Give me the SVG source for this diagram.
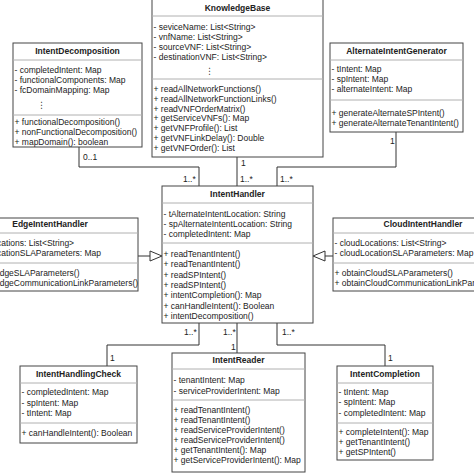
<svg xmlns="http://www.w3.org/2000/svg" width="474" height="474" viewBox="0 0 474 474">
<style>
.box{fill:#fff;stroke:#444;stroke-width:1}
.div{stroke:#b0b0b0;stroke-width:1}
.t{font-family:"Liberation Sans",Arial,sans-serif;font-size:8.5px;fill:#222}
.h{font-family:"Liberation Sans",Arial,sans-serif;font-size:8.5px;font-weight:bold;fill:#222;text-anchor:middle}
.dots{font-family:"DejaVu Sans",sans-serif;font-size:9px;fill:#444}
.c{fill:none;stroke:#333;stroke-width:1}
.tri{fill:#fff;stroke:#333;stroke-width:1}
</style>
<rect width="474" height="474" fill="#fff"/>
<g id="connectors">
<polyline class="c" points="79,147 79,167 199,167 199,186"/>
<line class="c" x1="237" y1="157" x2="237" y2="186"/>
<polyline class="c" points="396,132 396,167 277,167 277,186"/>
<line class="c" x1="138" y1="256" x2="150" y2="256"/>
<polygon class="tri" points="150,251 162,256 150,261"/>
<line class="c" x1="333" y1="256" x2="325" y2="256"/>
<polygon class="tri" points="325,251 313,256 325,261"/>
<polyline class="c" points="199,323 199,345 107,345 107,366"/>
<line class="c" x1="237" y1="323" x2="237" y2="353"/>
<polyline class="c" points="277,323 277,345 385,345 385,366"/>
<text class="t" x="83" y="160">0..1</text>
<text class="t" x="183" y="182">1..*</text>
<text class="t" x="241" y="166">1</text>
<text class="t" x="240" y="182">1..*</text>
<text class="t" x="280" y="182">1..*</text>
<text class="t" x="390" y="144">1</text>
<text class="t" x="184" y="335">1..*</text>
<text class="t" x="223" y="335">1..*</text>
<text class="t" x="282" y="335">1..*</text>
<text class="t" x="110" y="361">1</text>
<text class="t" x="231" y="350">1</text>
<text class="t" x="388" y="361">1</text>
</g>
<g id="KnowledgeBase">
<rect class="box" x="152" y="-1" width="171" height="158"/>
<text class="h" x="237.5" y="11">KnowledgeBase</text>
<line class="div" x1="152" y1="16" x2="323" y2="16"/>
<text class="t" x="153.5" y="30">- seviceName: List&lt;String&gt;</text>
<text class="t" x="153.5" y="40">- vnfName: List&lt;String&gt;</text>
<text class="t" x="153.5" y="50">- sourceVNF: List&lt;String&gt;</text>
<text class="t" x="153.5" y="60">- destinationVNF: List&lt;String&gt;</text>
<text class="dots" x="205" y="74">⋮</text>
<line class="div" x1="152" y1="79" x2="323" y2="79"/>
<text class="t" x="153.5" y="92">+ readAllNetworkFunctions()</text>
<text class="t" x="153.5" y="101.8">+ readAllNetworkFunctionLinks()</text>
<text class="t" x="153.5" y="111.6">+ readVNFOrderMatrix()</text>
<text class="t" x="153.5" y="121.4">+ getServiceVNFs(): Map</text>
<text class="t" x="153.5" y="131.2">+ getVNFProfile(): List</text>
<text class="t" x="153.5" y="141">+ getVNFLinkDelay(): Double</text>
<text class="t" x="153.5" y="150.8">+ getVNFOrder(): List</text>
</g>
<g id="IntentDecomposition">
<rect class="box" x="13" y="43" width="129" height="104"/>
<text class="h" x="77.5" y="54">IntentDecomposition</text>
<line class="div" x1="13" y1="60" x2="142" y2="60"/>
<text class="t" x="14.5" y="73">- completedIntent: Map</text>
<text class="t" x="14.5" y="83">- functionalComponents: Map</text>
<text class="t" x="14.5" y="93">- fcDomainMapping: Map</text>
<text class="dots" x="37" y="108">⋮</text>
<line class="div" x1="13" y1="115" x2="142" y2="115"/>
<text class="t" x="14.5" y="124.5">+ functionalDecomposition()</text>
<text class="t" x="14.5" y="134.5">+ nonFunctionalDecomposition()</text>
<text class="t" x="14.5" y="144.5">+ mapDomain(): boolean</text>
</g>
<g id="AlternateIntentGenerator">
<rect class="box" x="330" y="43" width="133" height="89"/>
<text class="h" x="396.5" y="54">AlternateIntentGenerator</text>
<line class="div" x1="330" y1="60" x2="463" y2="60"/>
<text class="t" x="331.5" y="71.5">- tIntent: Map</text>
<text class="t" x="331.5" y="81.5">- spIntent: Map</text>
<text class="t" x="331.5" y="91.5">- alternateIntent: Map</text>
<line class="div" x1="330" y1="100" x2="463" y2="100"/>
<text class="t" x="331.5" y="116">+ generateAlternateSPIntent()</text>
<text class="t" x="331.5" y="125.5">+ generateAlternateTenantIntent()</text>
</g>
<g id="IntentHandler">
<rect class="box" x="162" y="186" width="151" height="137"/>
<text class="h" x="237.5" y="196.5">IntentHandler</text>
<line class="div" x1="162" y1="203" x2="313" y2="203"/>
<text class="t" x="163.5" y="216.5">- tAlternateIntentLocation: String</text>
<text class="t" x="163.5" y="226.5">- spAlternateIntentLocation: String</text>
<text class="t" x="163.5" y="236.5">- completedIntent: Map</text>
<line class="div" x1="162" y1="243" x2="313" y2="243"/>
<text class="t" x="163.5" y="257">+ readTenantIntent()</text>
<text class="t" x="163.5" y="267.3">+ readTenantIntent()</text>
<text class="t" x="163.5" y="277.6">+ readSPIntent()</text>
<text class="t" x="163.5" y="287.9">+ readSPIntent()</text>
<text class="t" x="163.5" y="298.2">+ intentCompletion(): Map</text>
<text class="t" x="163.5" y="308.5">+ canHandleIntent(): Boolean</text>
<text class="t" x="163.5" y="318.8">+ intentDecomposition()</text>
</g>
<g id="EdgeIntentHandler">
<rect class="box" x="-38" y="218" width="176" height="73"/>
<text class="h" x="50" y="226.5">EdgeIntentHandler</text>
<line class="div" x1="-38" y1="233" x2="138" y2="233"/>
<text class="t" x="-36.5" y="246">- edgeLocations: List&lt;String&gt;</text>
<text class="t" x="-36.5" y="256">- edgeLocationSLAParameters: Map</text>
<line class="div" x1="-38" y1="263" x2="138" y2="263"/>
<text class="t" x="-36.5" y="276">+ obtainEdgeSLAParameters()</text>
<text class="t" x="-36.5" y="285.5">+ obtainEdgeCommunicationLinkParameters()</text>
</g>
<g id="CloudIntentHandler">
<rect class="box" x="333" y="218" width="180" height="73"/>
<text class="h" x="423" y="226.5">CloudIntentHandler</text>
<line class="div" x1="333" y1="233" x2="513" y2="233"/>
<text class="t" x="334.5" y="246">- cloudLocations: List&lt;String&gt;</text>
<text class="t" x="334.5" y="256">- cloudLocationSLAParameters: Map</text>
<line class="div" x1="333" y1="263" x2="513" y2="263"/>
<text class="t" x="334.5" y="276">+ obtainCloudSLAParameters()</text>
<text class="t" x="334.5" y="285.5">+ obtainCloudCommunicationLinkParameters()</text>
</g>
<g id="IntentHandlingCheck">
<rect class="box" x="20" y="366" width="117" height="77"/>
<text class="h" x="78.5" y="376.5">IntentHandlingCheck</text>
<line class="div" x1="20" y1="383" x2="137" y2="383"/>
<text class="t" x="21.5" y="395">- completedIntent: Map</text>
<text class="t" x="21.5" y="405.5">- spIntent: Map</text>
<text class="t" x="21.5" y="416">- tIntent: Map</text>
<line class="div" x1="20" y1="423" x2="137" y2="423"/>
<text class="t" x="21.5" y="436">+ canHandleIntent(): Boolean</text>
</g>
<g id="IntentReader">
<rect class="box" x="172" y="353" width="133" height="119"/>
<text class="h" x="238.5" y="363">IntentReader</text>
<line class="div" x1="172" y1="369" x2="305" y2="369"/>
<text class="t" x="173.5" y="383">- tenantIntent: Map</text>
<text class="t" x="173.5" y="393.5">- serviceProviderIntent: Map</text>
<line class="div" x1="172" y1="400" x2="305" y2="400"/>
<text class="t" x="173.5" y="413">+ readTenantIntent()</text>
<text class="t" x="173.5" y="423">+ readTenantIntent()</text>
<text class="t" x="173.5" y="433">+ readServiceProviderIntent()</text>
<text class="t" x="173.5" y="443">+ readServiceProviderIntent()</text>
<text class="t" x="173.5" y="453">+ getTenantIntent(): Map</text>
<text class="t" x="173.5" y="463">+ getServiceProviderIntent(): Map</text>
</g>
<g id="IntentCompletion">
<rect class="box" x="337" y="366" width="96" height="94"/>
<text class="h" x="385" y="376.5">IntentCompletion</text>
<line class="div" x1="337" y1="383" x2="433" y2="383"/>
<text class="t" x="338.5" y="395">- tIntent: Map</text>
<text class="t" x="338.5" y="405">- spIntent: Map</text>
<text class="t" x="338.5" y="415.5">- completedIntent: Map</text>
<line class="div" x1="337" y1="423" x2="433" y2="423"/>
<text class="t" x="338.5" y="435">+ completeIntent(): Map</text>
<text class="t" x="338.5" y="445">+ getTenantIntent()</text>
<text class="t" x="338.5" y="455">+ getSPIntent()</text>
</g>
</svg>
